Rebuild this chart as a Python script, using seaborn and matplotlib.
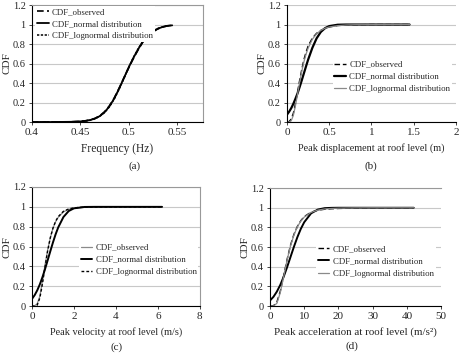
import matplotlib
matplotlib.use("Agg")
import matplotlib.pyplot as plt
import seaborn as sns

# (a) natural frequency
freq_x = [0.40, 0.42, 0.44, 0.45, 0.455, 0.46, 0.465, 0.47, 0.475, 0.48, 0.485, 0.49,
          0.495, 0.50, 0.505, 0.51, 0.515, 0.52, 0.525, 0.53, 0.535, 0.54, 0.545]
freq_obs = [0.0, 0.0, 0.002, 0.007, 0.012, 0.022, 0.037, 0.063, 0.105, 0.165, 0.245, 0.345,
            0.45, 0.555, 0.655, 0.745, 0.825, 0.88, 0.925, 0.955, 0.975, 0.986, 0.991]
freq_norm = [0.0, 0.0, 0.002, 0.006, 0.011, 0.02, 0.035, 0.06, 0.10, 0.16, 0.24, 0.34,
             0.45, 0.56, 0.66, 0.75, 0.83, 0.885, 0.93, 0.957, 0.975, 0.987, 0.992]
freq_logn = [0.0, 0.0, 0.001, 0.005, 0.01, 0.018, 0.033, 0.058, 0.097, 0.155, 0.235, 0.335,
             0.445, 0.56, 0.665, 0.755, 0.835, 0.89, 0.932, 0.958, 0.976, 0.987, 0.992]

# (b) peak displacement
disp_x = [0.0, 0.025, 0.05, 0.075, 0.1, 0.125, 0.15, 0.175, 0.2, 0.225, 0.25, 0.3, 0.35,
          0.4, 0.45, 0.5, 0.6, 0.7, 0.8, 1.0, 1.2, 1.45]
disp_obs = [0.0, 0.005, 0.03, 0.09, 0.19, 0.31, 0.43, 0.54, 0.64, 0.715, 0.78, 0.86, 0.91,
            0.94, 0.96, 0.975, 0.99, 0.995, 0.997, 1.0, 1.0, 1.0]
disp_norm = [0.076, 0.106, 0.142, 0.187, 0.239, 0.295, 0.36, 0.429, 0.5, 0.571, 0.64, 0.761,
             0.858, 0.924, 0.963, 0.984, 0.998, 1.0, 1.0, 1.0, 1.0, 1.0]
disp_logn = [0.0, 0.0002, 0.013, 0.068, 0.167, 0.288, 0.41, 0.521, 0.617, 0.695, 0.758, 0.849,
             0.905, 0.94, 0.962, 0.975, 0.989, 0.995, 0.998, 0.999, 1.0, 1.0]

# (c) peak velocity
vel_x = [0.0, 0.125, 0.25, 0.375, 0.5, 0.625, 0.75, 0.875, 1.0, 1.125, 1.25, 1.5, 1.75,
         2.0, 2.5, 3.0, 4.0, 5.0, 6.2]
vel_obs = [0.0, 0.003, 0.025, 0.1, 0.25, 0.42, 0.57, 0.69, 0.785, 0.85, 0.895, 0.95, 0.975,
           0.985, 0.995, 0.998, 1.0, 1.0, 1.0]
vel_norm = [0.073, 0.11, 0.159, 0.22, 0.293, 0.375, 0.464, 0.554, 0.642, 0.723, 0.793, 0.898,
            0.958, 0.985, 0.999, 1.0, 1.0, 1.0, 1.0]
vel_logn = [0.0, 0.0001, 0.011, 0.083, 0.227, 0.40, 0.561, 0.69, 0.786, 0.854, 0.901, 0.955,
            0.979, 0.99, 0.998, 0.999, 1.0, 1.0, 1.0]

# (d) peak acceleration
acc_x = [0, 1, 2, 3, 4, 5, 6, 7, 8, 9, 10, 12, 14, 16, 18, 20, 25, 30, 42]
acc_obs = [0.0, 0.003, 0.04, 0.15, 0.31, 0.475, 0.62, 0.73, 0.81, 0.868, 0.91, 0.955, 0.975,
           0.985, 0.99, 0.993, 0.997, 0.999, 1.0]
acc_norm = [0.057, 0.094, 0.147, 0.215, 0.299, 0.396, 0.5, 0.604, 0.701, 0.785, 0.853, 0.943,
            0.982, 0.996, 0.999, 1.0, 1.0, 1.0, 1.0]
acc_logn = [0.0, 0.0005, 0.028, 0.136, 0.30, 0.469, 0.613, 0.723, 0.806, 0.864, 0.905, 0.953,
            0.976, 0.988, 0.993, 0.996, 0.999, 1.0, 1.0]

labels = ['CDF_observed', 'CDF_normal distribution', 'CDF_lognormal distribution']

sns.set_style("white")
plt.rcParams['font.family'] = ['Liberation Serif', 'DejaVu Serif']

fig = plt.figure(figsize=(4.74, 3.61), dpi=100)

# line styles per panel: (color, width, dashes)
styles = {
    'a': [('black', 1.2, (4, 2)), ('black', 1.3, None), ('black', 1.1, (1.5, 1))],
    'b': [('black', 1.0, (4, 2)), ('black', 1.6, None), ('#8a8a8a', 0.9, None)],
    'c': [('#8a8a8a', 0.9, None), ('black', 1.4, None), ('black', 1.0, (2, 1.5))],
    'd': [('black', 1.0, (4, 2)), ('black', 1.4, None), ('#8a8a8a', 0.9, None)],
}

panels = [
    ('a', [0.0675, 0.662, 0.361, 0.324], freq_x, [freq_obs, freq_norm, freq_logn],
     (0.4, 0.577), [0.4, 0.45, 0.5, 0.55], 'Frequency (Hz)', 8.3, (0.02, 0.99), 'box'),
    ('b', [0.6055, 0.662, 0.3565, 0.324], disp_x, [disp_obs, disp_norm, disp_logn],
     (0, 2), [0, 0.5, 1, 1.5, 2], 'Peak displacement at roof level (m)', 7.4, (0.27, 0.54), 'none'),
    ('c', [0.0675, 0.152, 0.354, 0.330], vel_x, [vel_obs, vel_norm, vel_logn],
     (0, 8), [0, 2, 4, 6, 8], 'Peak velocity at roof level (m/s)', 7.4, (0.28, 0.54), 'box'),
    ('d', [0.5696, 0.152, 0.361, 0.327], acc_x, [acc_obs, acc_norm, acc_logn],
     (0, 50), [0, 10, 20, 30, 40, 50], 'Peak acceleration at roof level (m/s\u00b2)', 7.9,
     (0.27, 0.53), 'top'),
]

for key, rect, xs, series, xlim, xticks, xlabel, lsize, anchor, frame in panels:
    ax = fig.add_axes(rect)
    for (col, lw, dash), ys, lab in zip(styles[key], series, labels):
        sns.lineplot(x=xs, y=ys, ax=ax, color=col, linewidth=lw, label=lab)
        if dash is not None:
            ax.lines[-1].set_dashes(dash)
    ax.set_xlim(*xlim)
    ax.set_ylim(0, 1.2)
    ax.set_xticks(xticks)
    ax.set_xticklabels([('%g' % t) for t in xticks])
    ax.set_yticks([0, 0.2, 0.4, 0.6, 0.8, 1.0, 1.2])
    ax.set_yticklabels(['0', '0.2', '0.4', '0.6', '0.8', '1', '1.2'])
    ax.yaxis.grid(True, color='#c8c8c8', linewidth=0.8)
    ax.set_axisbelow(True)
    ax.tick_params(axis='both', length=2.5, width=0.6, direction='out',
                   left=True, bottom=True, pad=2)
    ax.tick_params(axis='x', labelsize=8)
    ax.tick_params(axis='y', labelsize=7.5)
    for side in ['left', 'bottom']:
        ax.spines[side].set_color('black')
        ax.spines[side].set_linewidth(0.8)
    for side in ['top', 'right']:
        ax.spines[side].set_color('#999999')
        ax.spines[side].set_linewidth(0.8)
    if frame == 'none':
        ax.spines['top'].set_visible(False)
        ax.spines['right'].set_visible(False)
    elif frame == 'top':
        ax.spines['right'].set_visible(False)
    ax.set_xlabel(xlabel, fontsize=lsize, labelpad=4)
    ax.set_ylabel('CDF', fontsize=8, labelpad=1)
    ax.legend(loc='upper left', bbox_to_anchor=anchor, fontsize=6.3, frameon=True,
              facecolor='white', edgecolor='none', framealpha=1, fancybox=False,
              handlelength=1.3, handletextpad=0.4, labelspacing=0.45,
              borderpad=0.2, borderaxespad=0)

fig.text(0.283, 1 - 166 / 361, '(a)', ha='center', va='center', fontsize=8)
fig.text(0.782, 1 - 166 / 361, '(b)', ha='center', va='center', fontsize=8)
fig.text(0.245, 1 - 347 / 361, '(c)', ha='center', va='center', fontsize=8)
fig.text(0.742, 1 - 346 / 361, '(d)', ha='center', va='center', fontsize=8)

fig.savefig('out.png', dpi=100)
